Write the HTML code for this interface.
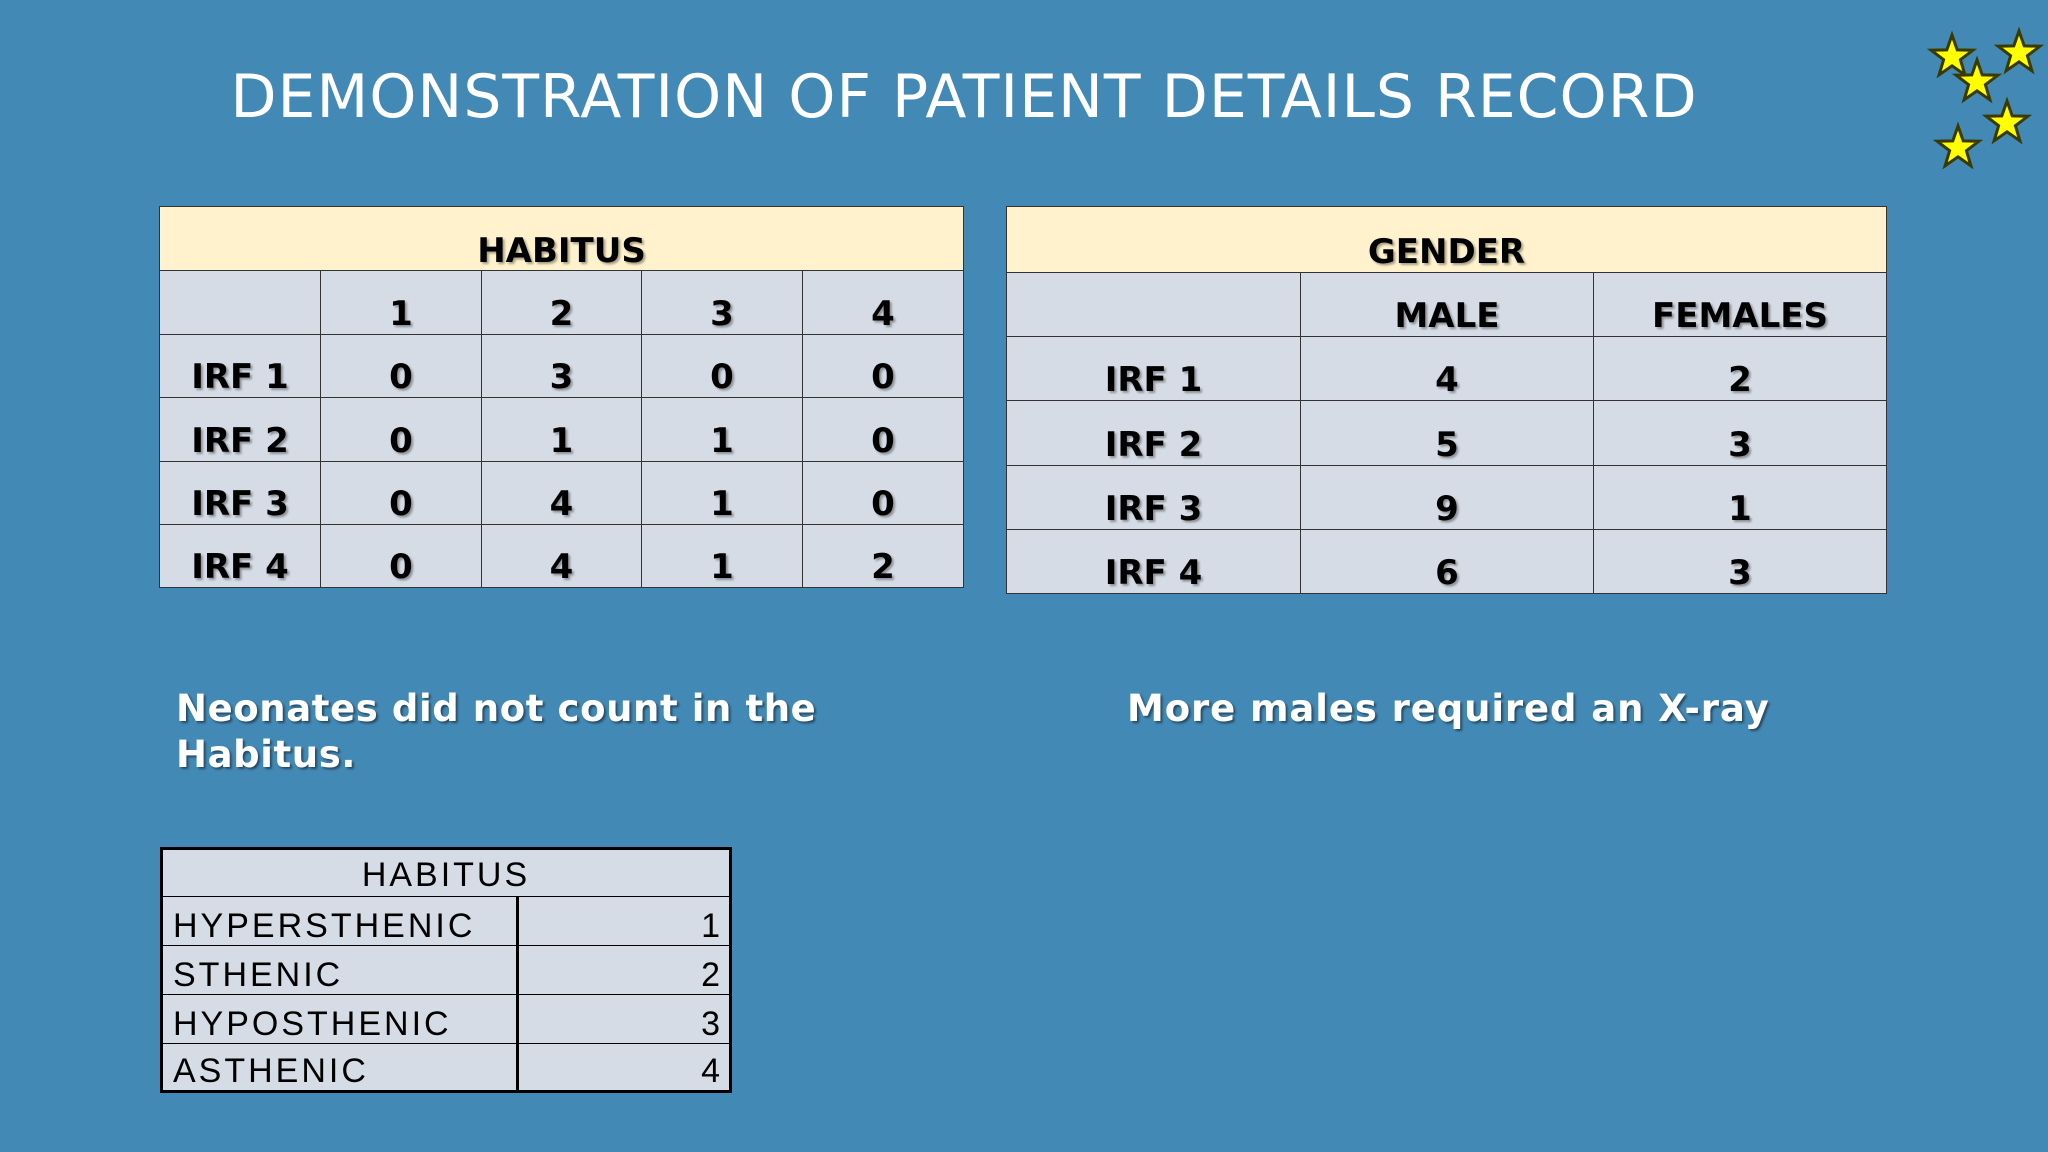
<!DOCTYPE html>
<html><head><meta charset="utf-8">
<style>
html,body{margin:0;padding:0}
body{width:2048px;height:1152px;background:#4389b5;position:relative;overflow:hidden;font-family:"DejaVu Sans","Liberation Sans",sans-serif}
.abs{position:absolute}
.c{position:absolute;box-sizing:border-box;display:flex;align-items:flex-end;justify-content:center;padding-bottom:3px;font-weight:bold;font-size:34px;line-height:1;color:#000;text-shadow:2px 2px 2px rgba(0,0,0,0.35);border:1px solid #333;background:#d6dce5}
.h{background:#fff2cc}
.s{position:absolute;box-sizing:border-box;font-family:"Liberation Sans",sans-serif;font-size:34px;letter-spacing:3px;line-height:1;color:#000;display:flex;align-items:flex-end;padding-bottom:2px;background:#d6dce5;border:1.5px solid #000}
.note{position:absolute;color:#fff;font-weight:bold;font-size:37px;letter-spacing:0.6px;line-height:46px;text-shadow:2px 2px 2px rgba(0,0,0,0.45)}
</style></head><body>
<div class="abs" style="left:0;width:1928px;top:62px;text-align:center;color:#fff;font-size:60px;line-height:70px;letter-spacing:1px">DEMONSTRATION OF PATIENT DETAILS RECORD</div>

<svg class="abs" style="left:1900px;top:20px" width="148" height="160" viewBox="0 0 148 160">
<defs><polygon id="st" points="0,-22 5.2,-7.1 20.9,-6.8 8.4,2.7 12.9,17.8 0,8.8 -12.9,17.8 -8.4,2.7 -20.9,-6.8 -5.2,-7.1"/></defs>
<g fill="#ffff00" stroke="#3a3a00" stroke-width="3">
<use href="#st" x="52" y="37"/><use href="#st" x="119" y="33"/><use href="#st" x="77" y="62"/><use href="#st" x="107" y="103"/><use href="#st" x="58" y="128"/>
</g></svg>

<div>
<div class="c h" style="left:159px;top:206px;width:805px;height:65px;padding-bottom:2px">HABITUS</div>
<div class="c" style="left:159px;top:270px;width:162px;height:65px"></div>
<div class="c" style="left:320px;top:270px;width:162px;height:65px">1</div>
<div class="c" style="left:481px;top:270px;width:161px;height:65px">2</div>
<div class="c" style="left:641px;top:270px;width:162px;height:65px">3</div>
<div class="c" style="left:802px;top:270px;width:162px;height:65px">4</div>

<div class="c" style="left:159px;top:334px;width:162px;height:64px">IRF 1</div>
<div class="c" style="left:320px;top:334px;width:162px;height:64px">0</div>
<div class="c" style="left:481px;top:334px;width:161px;height:64px">3</div>
<div class="c" style="left:641px;top:334px;width:162px;height:64px">0</div>
<div class="c" style="left:802px;top:334px;width:162px;height:64px">0</div>

<div class="c" style="left:159px;top:397px;width:162px;height:65px">IRF 2</div>
<div class="c" style="left:320px;top:397px;width:162px;height:65px">0</div>
<div class="c" style="left:481px;top:397px;width:161px;height:65px">1</div>
<div class="c" style="left:641px;top:397px;width:162px;height:65px">1</div>
<div class="c" style="left:802px;top:397px;width:162px;height:65px">0</div>

<div class="c" style="left:159px;top:461px;width:162px;height:64px">IRF 3</div>
<div class="c" style="left:320px;top:461px;width:162px;height:64px">0</div>
<div class="c" style="left:481px;top:461px;width:161px;height:64px">4</div>
<div class="c" style="left:641px;top:461px;width:162px;height:64px">1</div>
<div class="c" style="left:802px;top:461px;width:162px;height:64px">0</div>

<div class="c" style="left:159px;top:524px;width:162px;height:64px">IRF 4</div>
<div class="c" style="left:320px;top:524px;width:162px;height:64px">0</div>
<div class="c" style="left:481px;top:524px;width:161px;height:64px">4</div>
<div class="c" style="left:641px;top:524px;width:162px;height:64px">1</div>
<div class="c" style="left:802px;top:524px;width:162px;height:64px">2</div>
</div>

<div>
<div class="c h" style="left:1006px;top:206px;width:881px;height:67px;padding-bottom:3px">GENDER</div>
<div class="c" style="left:1006px;top:272px;width:295px;height:65px"></div>
<div class="c" style="left:1300px;top:272px;width:294px;height:65px">MALE</div>
<div class="c" style="left:1593px;top:272px;width:294px;height:65px">FEMALES</div>

<div class="c" style="left:1006px;top:336px;width:295px;height:65px">IRF 1</div>
<div class="c" style="left:1300px;top:336px;width:294px;height:65px">4</div>
<div class="c" style="left:1593px;top:336px;width:294px;height:65px">2</div>

<div class="c" style="left:1006px;top:400px;width:295px;height:66px">IRF 2</div>
<div class="c" style="left:1300px;top:400px;width:294px;height:66px">5</div>
<div class="c" style="left:1593px;top:400px;width:294px;height:66px">3</div>

<div class="c" style="left:1006px;top:465px;width:295px;height:65px">IRF 3</div>
<div class="c" style="left:1300px;top:465px;width:294px;height:65px">9</div>
<div class="c" style="left:1593px;top:465px;width:294px;height:65px">1</div>

<div class="c" style="left:1006px;top:529px;width:295px;height:65px">IRF 4</div>
<div class="c" style="left:1300px;top:529px;width:294px;height:65px">6</div>
<div class="c" style="left:1593px;top:529px;width:294px;height:65px">3</div>
</div>

<div class="note" style="left:176px;top:686px;width:760px">Neonates did not count in the<br>Habitus.</div>
<div class="note" style="left:1127px;top:686px;width:820px;letter-spacing:0.9px">More males required an X-ray</div>

<div class="abs" style="left:160px;top:847px;width:572px;height:246px;border:3px solid #000;box-sizing:border-box;background:#d6dce5"></div>
<div class="s" style="left:160px;top:847px;width:572px;height:50px;justify-content:center;border-width:3px 3px 1.5px 3px;padding-bottom:4px">HABITUS</div>
<div class="s" style="left:160px;top:896px;width:358px;height:50px;padding-left:10px;border-left-width:3px">HYPERSTHENIC</div>
<div class="s" style="left:516px;top:896px;width:216px;height:50px;justify-content:flex-end;padding-right:6px;border-right-width:3px;border-left-width:3px">1</div>
<div class="s" style="left:160px;top:945px;width:358px;height:50px;padding-left:10px;border-left-width:3px">STHENIC</div>
<div class="s" style="left:516px;top:945px;width:216px;height:50px;justify-content:flex-end;padding-right:6px;border-right-width:3px;border-left-width:3px">2</div>
<div class="s" style="left:160px;top:994px;width:358px;height:50px;padding-left:10px;border-left-width:3px">HYPOSTHENIC</div>
<div class="s" style="left:516px;top:994px;width:216px;height:50px;justify-content:flex-end;padding-right:6px;border-right-width:3px;border-left-width:3px">3</div>
<div class="s" style="left:160px;top:1043px;width:358px;height:50px;padding-left:10px;border-width:1.5px 1.5px 3px 3px">ASTHENIC</div>
<div class="s" style="left:516px;top:1043px;width:216px;height:50px;justify-content:flex-end;padding-right:6px;border-width:1.5px 3px 3px 3px">4</div>
</body></html>
